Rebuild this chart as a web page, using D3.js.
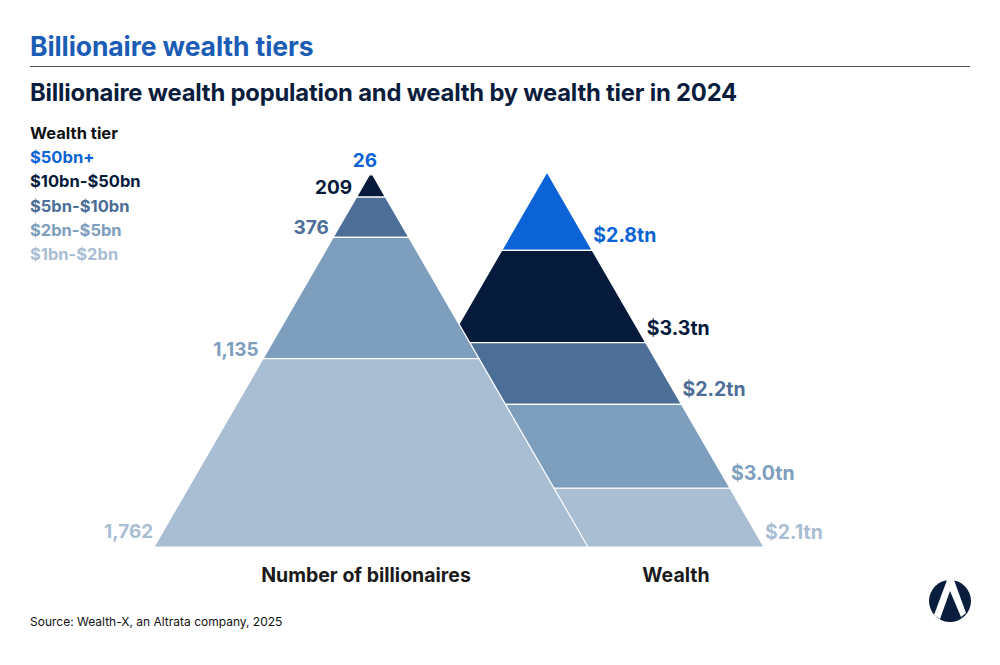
<!DOCTYPE html>
<html lang="en">
<head>
<meta charset="UTF-8">
<title>Billionaire wealth tiers</title>
<style>
body { margin: 0; background: #fff; }
svg { font-family: Inter, "Noto Sans", sans-serif; display: block; }
</style>
</head>
<body>
<svg id="chart" width="1000" height="665"></svg>
<script src="https://cdn.jsdelivr.net/npm/d3@7"></script>
<script>
// data (top of pyramid first)
const tiers = ['$50bn+', '$10bn-$50bn', '$5bn-$10bn', '$2bn-$5bn', '$1bn-$2bn'];
const tierColors = ['#0b63d6', '#061b3c', '#4c6e97', '#7e9ebe', '#a9bdd3'];
const billionaires = [26, 209, 376, 1135, 1762];
const billionaireLabels = ['26', '209', '376', '1,135', '1,762'];
const wealth = [2.8, 3.3, 2.2, 3.0, 2.1];
const wealthLabels = ['$2.8tn', '$3.3tn', '$2.2tn', '$3.0tn', '$2.1tn'];

const svg = d3.select('#chart');
const apexY = 172, baseY = 547, halfBase = 217;
const leftCx = 371, rightCx = 547;

// half width of triangle at a given y
const halfW = d3.scaleLinear().domain([apexY, baseY]).range([0, halfBase]);

function bands(values) {
  const total = d3.sum(values);
  const y = d3.scaleLinear().domain([0, total]).range([apexY, baseY]);
  let acc = 0;
  return values.map((v, i) => {
    const b = { i: i, v: v, y0: y(acc), y1: y(acc + v) };
    acc += v;
    return b;
  });
}

function bandPath(cx, b) {
  return 'M' + (cx - halfW(b.y0)) + ',' + b.y0 +
    'L' + (cx + halfW(b.y0)) + ',' + b.y0 +
    'L' + (cx + halfW(b.y1)) + ',' + b.y1 +
    'L' + (cx - halfW(b.y1)) + ',' + b.y1 + 'Z';
}

// header
svg.append('text').attr('x', 30).attr('y', 56)
  .style('font-size', '26.5px').style('font-weight', 700).style('fill', '#1b5db5')
  .style('letter-spacing', '-0.1px')
  .text('Billionaire wealth tiers');
svg.append('line').attr('x1', 30).attr('x2', 970).attr('y1', 66.5).attr('y2', 66.5)
  .attr('stroke', '#555').attr('stroke-width', 1);
svg.append('text').attr('x', 30).attr('y', 101)
  .style('font-size', '23.8px').style('font-weight', 700).style('fill', '#0b1d3d')
  .style('letter-spacing', '-0.2px')
  .text('Billionaire wealth population and wealth by wealth tier in 2024');

// legend
svg.append('text').attr('x', 30).attr('y', 139)
  .style('font-size', '16.5px').style('font-weight', 700).style('fill', '#111')
  .text('Wealth tier');
svg.selectAll('.leg').data(tiers).enter().append('text')
  .attr('class', 'leg')
  .attr('x', 30).attr('y', (d, i) => 163 + i * 24.3)
  .style('font-size', '16.5px').style('font-weight', 700)
  .style('fill', (d, i) => tierColors[i])
  .text(d => d);

// right triangle (wealth) drawn first, behind
const wBands = bands(wealth);
svg.selectAll('.wband').data(wBands).enter().append('path')
  .attr('class', 'wband')
  .attr('d', b => bandPath(rightCx, b))
  .attr('fill', b => tierColors[b.i])
  .attr('stroke', '#fff').attr('stroke-width', 1.2).attr('stroke-linejoin', 'round');

svg.selectAll('.wlab').data(wBands).enter().append('text')
  .attr('class', 'wlab')
  .attr('x', b => rightCx + halfW(b.y1) + 1)
  .attr('y', b => b.y1 - 8)
  .style('font-size', '19.5px').style('font-weight', 700)
  .style('fill', b => tierColors[b.i])
  .text(b => wealthLabels[b.i]);

// left triangle (billionaires)
const nBands = bands(billionaires);
svg.selectAll('.nband').data(nBands).enter().append('path')
  .attr('class', 'nband')
  .attr('d', b => bandPath(leftCx, b))
  .attr('fill', b => tierColors[b.i])
  .attr('stroke', '#fff').attr('stroke-width', 1.2).attr('stroke-linejoin', 'round');

svg.selectAll('.nlab').data(nBands).enter().append('text')
  .attr('class', 'nlab')
  .attr('x', b => b.i === 0 ? leftCx - 6 : leftCx - halfW(Math.min(b.y1 - 3, baseY - 9)) - 6)
  .attr('y', b => b.i === 0 ? apexY - 5 : Math.min(b.y1 - 3, baseY - 9))
  .attr('text-anchor', b => b.i === 0 ? 'middle' : 'end')
  .style('font-size', '19px').style('font-weight', 700)
  .style('fill', b => tierColors[b.i])
  .text(b => billionaireLabels[b.i]);

// axis titles
svg.append('text').attr('x', 366).attr('y', 582).attr('text-anchor', 'middle')
  .style('font-size', '19.5px').style('font-weight', 700).style('fill', '#1a1a1a')
  .text('Number of billionaires');
svg.append('text').attr('x', 676).attr('y', 582).attr('text-anchor', 'middle')
  .style('font-size', '19.5px').style('font-weight', 700).style('fill', '#1a1a1a')
  .text('Wealth');

// source
svg.append('text').attr('x', 30).attr('y', 626)
  .style('font-size', '12px').style('fill', '#111')
  .text('Source: Wealth-X, an Altrata company, 2025');

// logo
const logo = svg.append('g').attr('transform', 'translate(950,601)');
logo.append('circle').attr('r', 21).attr('fill', '#0b1d3d');
logo.append('path')
  .attr('d', 'M-3,-21 L4,-21 L16,12 L11,16 L0,-10 L-10,18 L-16,14 Z')
  .attr('fill', '#fff');
</script>
</body>
</html>
